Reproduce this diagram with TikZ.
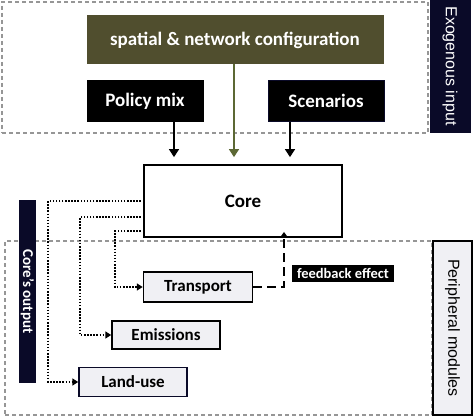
\documentclass[tikz,border=0pt]{standalone}
\usepackage{fontspec}
\setmainfont{Carlito}
\newfontfamily\tah{Liberation Sans}
\usetikzlibrary{arrows.meta}
\definecolor{olivebox}{RGB}{80,78,46}
\definecolor{olivearrow}{RGB}{92,104,52}
\definecolor{navyd}{RGB}{10,10,40}
\definecolor{modfill}{RGB}{240,240,244}
\definecolor{dashgray}{RGB}{150,150,150}
\begin{document}
\begin{tikzpicture}[x=1pt,y=-1pt,
  darkbox/.style={draw=black,fill=black,text=white,font=\bfseries\fontsize{19}{21}\selectfont,inner sep=0pt,line width=1pt},
  modbox/.style={draw=black,fill=modfill,line width=1.5pt,font=\bfseries\fontsize{17}{19}\selectfont,inner sep=0pt},
  grp/.style={draw=dashgray,line width=1.2pt,dash pattern=on 4pt off 3pt},
  arr/.style={line width=1.6pt,-{Triangle[length=8pt,width=10pt]}},
  dots/.style={line width=1.5pt,dash pattern=on 1.5pt off 1.6pt,-{Triangle[length=6pt,width=7pt]}},
  fb/.style={line width=1.6pt,dash pattern=on 9pt off 5pt,-{Triangle[length=6pt,width=8pt]}}]
\useasboundingbox (0,0) rectangle (474,420);
% group frames
\node[grp,minimum width=426pt,minimum height=131pt,inner sep=0pt] (topgrp) at (215,67.5) {};
\node[grp,minimum width=427pt,minimum height=174pt,inner sep=0pt] (botgrp) at (218.5,328) {};
% side labels
\node[draw=navyd,fill=navyd,minimum width=40pt,minimum height=132pt,inner sep=0pt] (exo) at (450,66) {};
\node[text=white,rotate=-90,font=\tah\fontsize{16}{18}\selectfont] (exot) at (450,66) {Exogenous input};
\node[draw=black,fill=modfill,line width=1.2pt,minimum width=39pt,minimum height=174pt,inner sep=0pt] (peri) at (452.5,328) {};
\node[rotate=-90,font=\tah\fontsize{16}{18}\selectfont] (perit) at (452.5,328) {Peripheral modules};
\node[fill=navyd,minimum width=17pt,minimum height=183pt,inner sep=0pt] (cout) at (27.5,291.5) {};
\node[text=white,rotate=-90,font=\bfseries\fontsize{15}{17}\selectfont] (coutt) at (27.5,291.5) {Core's output};
% main boxes
\node[darkbox,draw=olivebox,fill=olivebox,minimum width=296pt,minimum height=48pt] (spat) at (235,40) {spatial \& network configuration};
\node[darkbox,minimum width=116pt,minimum height=40pt] (pol) at (145,101) {Policy mix};
\node[darkbox,draw=navyd,minimum width=116pt,minimum height=40pt] (scen) at (326,101) {Scenarios};
\node[draw=black,fill=white,line width=1.8pt,minimum width=198pt,minimum height=72pt,inner sep=0pt,font=\bfseries\fontsize{19}{21}\selectfont] (core) at (243,201) {Core};
\node[modbox,minimum width=109pt,minimum height=30pt] (trans) at (198,287) {Transport};
\node[modbox,minimum width=108pt,minimum height=28pt] (emis) at (166,335) {Emissions};
\node[modbox,draw=navyd,minimum width=108pt,minimum height=29pt] (land) at (133,382) {Land-use};
\node[fill=black,text=white,minimum width=102pt,minimum height=17pt,inner sep=0pt,font=\bfseries\fontsize{14.5}{16}\selectfont] (fbl) at (343,273) {feedback effect};
% input arrows
\coordinate (xp) at (174,0);
\coordinate (xs) at (234,0);
\coordinate (xc) at (290,0);
\draw[arr,shorten >=7pt] (pol.south -| xp) -- (core.north -| xp);
\draw[arr,olivearrow,shorten >=7pt] (spat.south -| xs) -- (core.north -| xs);
\draw[arr,shorten >=7pt] (scen.south -| xc) -- (core.north -| xc);
% output dotted connectors
\coordinate (c1) at (144,201);
\coordinate (c2) at (144,217);
\coordinate (c3) at (144,231);
\draw[dots] (c1) -| (48,382) -- (land.west);
\draw[dots] (c2) -| (80,335) -- (emis.west);
\draw[dots] (c3) -| (115,287) -- (trans.west);
% feedback
\coordinate (fbx) at (284,0);
\draw[fb] (trans.east) -| ([yshift=6pt]core.south -| fbx);
\end{tikzpicture}
\end{document}
